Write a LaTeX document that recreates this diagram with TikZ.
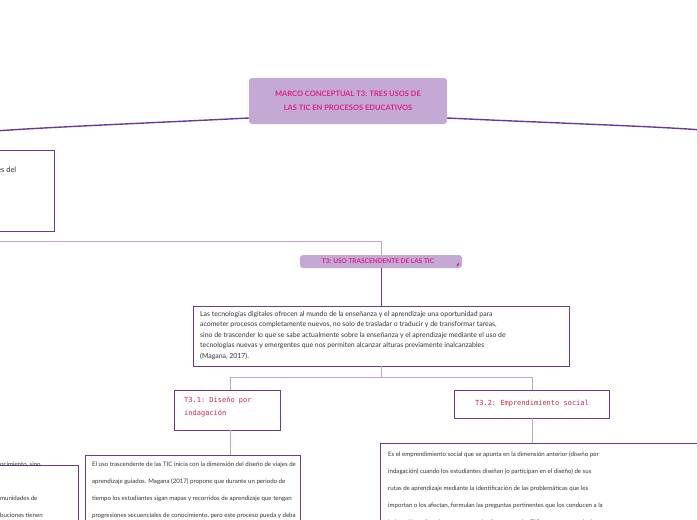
\documentclass[tikz,border=0pt]{standalone}
\usepackage{fontspec}
\setmainfont{Lato}
\setmonofont{DejaVu Sans Mono}
\definecolor{lil}{HTML}{C3A9D4}
\definecolor{dk}{HTML}{6B3A99}
\definecolor{lightp}{HTML}{BFA0D6}
\definecolor{mag}{HTML}{E0218A}
\definecolor{crim}{HTML}{D0204A}
\definecolor{txt}{HTML}{333333}
\begin{document}
\begin{tikzpicture}[x=1pt,y=-1pt,
  topic/.style={fill=lil,rounded corners=3pt,text=mag,font=\fontsize{7.5}{14}\selectfont\bfseries,align=center,inner sep=0pt},
  box/.style={draw=dk,line width=0.6pt,fill=white,inner sep=0pt},
  para/.style={text=txt,align=left,anchor=north west,inner sep=0pt},
  conn/.style={draw=lightp,line width=0.8pt},
  sub/.style={box,text=crim,font=\ttfamily\fontsize{7}{13}\selectfont,align=left}]
\useasboundingbox (0,0) rectangle (697,520);
\clip (0,0) rectangle (697,520);
% main topic
\node[topic,minimum width=198pt,minimum height=46pt] (main) at (348,101) {MARCO CONCEPTUAL T3: TRES USOS DE\\LAS TIC EN PROCESOS EDUCATIVOS};
\coordinate (L) at (-5,131);
\coordinate (R) at (702,130);
\draw[dk,line width=1.4pt] (main.west|-0,118) .. controls (150,123) and (50,127) .. (L);
\draw[dk,line width=1.4pt] (main.east|-0,118) .. controls (550,123) and (650,126) .. (R);
% left box
\node[box,minimum width=60pt,minimum height=81pt] (lb) at (24,190.5) {};
\node[para,font=\fontsize{7.5}{10}\selectfont] at (-3,167) {es del};
% T3
\coordinate (h0) at (-5,241);
\node[topic,font=\fontsize{6.5}{8}\selectfont\bfseries,minimum width=162pt,minimum height=13pt] (t3) at (381,261.5) {T3: USO TRASCENDENTE DE LAS TIC\hspace{6pt}};
\fill[mag] (456,265.5) -- (459,265.5) -- (459,262.5) -- cycle;
\draw[conn] (h0) -- (381,241) -- (t3.north);
% paragraph
\node[box,minimum width=376pt,minimum height=60pt] (p) at (381,336) {};
\node[para,font=\fontsize{6.9}{10.5}\selectfont] at (200,311) {Las tecnologías digitales ofrecen al mundo de la enseñanza y el aprendizaje una oportunidad para\\acometer procesos completamente nuevos, no solo de trasladar o traducir y de transformar tareas,\\sino de trascender lo que se sabe actualmente sobre la enseñanza y el aprendizaje mediante el uso de\\tecnologías nuevas y emergentes que nos permiten alcanzar alturas previamente inalcanzables\\(Magana, 2017).};
\draw[dk,line width=1pt] (t3.south) -- (p.north);
% subtopics
\node[sub,minimum width=106pt,minimum height=40pt] (s1) at (227,410) {};
\node[para,text=crim,font=\ttfamily\fontsize{7}{13}\selectfont] at (184,397) {T3.1: Diseño por\\indagación};
\node[sub,minimum width=155pt,minimum height=28pt] (s2) at (532,404) {T3.2: Emprendimiento social};
\draw[conn] (p.south) -- (381,377) -- (230,377) -- (s1.north -| 230,0);
\draw[conn] (381,377) -- (532,377) -- (s2.north);
% bottom boxes
\node[box,minimum width=215pt,minimum height=80pt] (b1) at (192.5,495) {};
\node[para,font=\fontsize{6.1}{17}\selectfont] at (92,462) {El uso trascendente de las TIC inicia con la dimensión del diseño de viajes de\\aprendizaje guiados. Magana (2017) propone que durante un periodo de\\tiempo los estudiantes sigan mapas y recorridos de aprendizaje que tengan\\progresiones secuenciales de conocimiento, pero este proceso pueda y deba};
\draw[conn] (s1.south -| 230,0) -- (b1.north -| 230,0);
\node[box,minimum width=317pt,minimum height=90pt] (b2) at (538.5,488) {};
\node[para,font=\fontsize{6.1}{17}\selectfont] at (388,452) {Es el emprendimiento social que se apunta en la dimensión anterior (diseño por\\indagación) cuando los estudiantes diseñan (o participan en el diseño) de sus\\rutas de aprendizaje mediante la identificación de las problemáticas que les\\importan o los afectan, formulan las preguntas pertinentes que los conducen a la\\indagación enfocada que, a su vez, los lleva a usar las TIC para generar soluciones};
\draw[conn] (s2.south) -- (b2.north -| s2.south);
\node[box,minimum width=83pt,minimum height=70pt] (b0) at (36.5,500) {};
\node[para,font=\fontsize{6.1}{17}\selectfont] at (0,462) {ocimiento, sino\\\\munidades de\\buciones tienen};
\end{tikzpicture}
\end{document}
